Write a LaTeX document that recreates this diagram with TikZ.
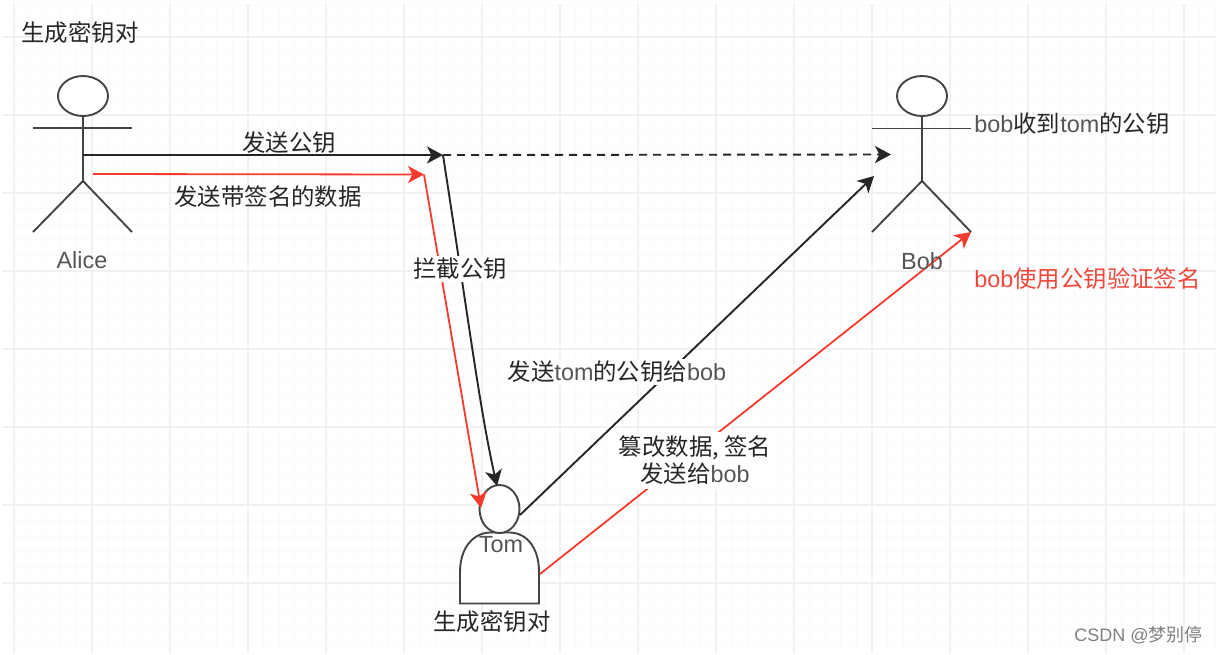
\documentclass[tikz,border=0pt]{standalone}
\usepackage{fontspec}
\setmainfont{Liberation Sans}
\newfontfamily\cjk{Noto Sans CJK SC}
\usetikzlibrary{arrows.meta}
\usetikzlibrary{shapes.geometric}
\definecolor{ink}{HTML}{262626}
\definecolor{limb}{HTML}{444444}
\definecolor{latin}{HTML}{555555}
\definecolor{redline}{HTML}{F53A2E}
\definecolor{redtext}{HTML}{F2483C}
\definecolor{gridminor}{HTML}{FAFAFA}
\definecolor{gridmajor}{HTML}{F1F1F1}
\newcommand{\zh}[1]{{\cjk\color{ink}#1}}
\newcommand{\lat}[1]{{\color{latin}#1}}
\newcommand{\zr}[1]{{\cjk\color{redtext}#1}}
\tikzset{
  limbline/.style={draw=limb,line width=0.95pt},
  actorhead/.style={ellipse,draw=limb,line width=0.95pt,fill=white,inner sep=0pt},
  lbl/.style={font=\fontsize{11.7pt}{13.5pt}\selectfont,inner sep=1pt,align=center},
  bglbl/.style={lbl,fill=white},
  blackarrow/.style={-{Stealth[length=8pt,width=8.5pt,inset=2.2pt]},draw=ink,line width=0.95pt},
  redarrow/.style={-{Stealth[length=8pt,width=8.5pt,inset=2.2pt]},draw=redline,line width=0.9pt},
}
\begin{document}
\begin{tikzpicture}[x=0.5pt,y=-0.5pt]
\useasboundingbox (0,0) rectangle (1218,654);
\fill[white] (0,0) rectangle (1218,654);
% grid
\begin{scope}
\clip (2,4) rectangle (1216,652);
\foreach \i in {-1,...,78} \draw[gridminor,line width=0.5pt] ({14+15.6*\i},0) -- ({14+15.6*\i},654);
\foreach \i in {-3,...,41} \draw[gridminor,line width=0.5pt] (0,{37+15.6*\i}) -- (1218,{37+15.6*\i});
\foreach \i in {0,...,15} \draw[gridmajor,line width=0.6pt] ({14+78*\i},0) -- ({14+78*\i},654);
\foreach \i in {0,...,8} \draw[gridmajor,line width=0.6pt] (0,{37+78*\i}) -- (1218,{37+78*\i});
\end{scope}
% anchors
\node[actorhead,minimum width=25pt,minimum height=20pt] (aliceHead) at (83,96) {};
\coordinate (aliceNeck) at (83,115);
\coordinate (aliceArmL) at (33,128);
\coordinate (aliceArmR) at (132,128);
\coordinate (aliceHip) at (83,181);
\coordinate (aliceLegL) at (33,232);
\coordinate (aliceLegR) at (132,232);
\coordinate (aliceBlack) at (83,155);
\coordinate (aliceRed) at (93,174);
\node[actorhead,minimum width=25pt,minimum height=20pt] (bobHead) at (922,96) {};
\coordinate (bobNeck) at (922,115);
\coordinate (bobArmL) at (872,128.5);
\coordinate (bobArmR) at (971,128.5);
\coordinate (bobHip) at (922,181);
\coordinate (bobLegL) at (872,232);
\coordinate (bobLegR) at (971,232);
\coordinate (interceptBlack) at (443,155);
\coordinate (interceptRed) at (424,174.5);
\coordinate (bobDash) at (891,154.5);
\coordinate (bobBlack) at (874,176);
\coordinate (tomHeadTop) at (497,486);
\coordinate (tomHeadLeft) at (481,508);
\coordinate (tomHeadRight) at (520,515);
\coordinate (tomBodyRight) at (540,574);
% actors
\draw[limbline] (aliceNeck) -- (aliceHip);
\draw[limbline] (aliceArmL) -- (aliceArmR);
\draw[limbline] (aliceLegL) -- (aliceHip) -- (aliceLegR);
\draw[limbline] (bobNeck) -- (bobHip);
\draw[limbline] (bobArmL) -- (bobArmR);
\draw[limbline] (bobLegL) -- (bobHip) -- (bobLegR);
\draw[limbline,fill=white] (460,603.5) -- (460,572) .. controls (460,548) and (473,533) .. (490,532.5) -- (510,532.5) .. controls (527,533) and (539,548) .. (539,572) -- (539,603.5) -- cycle;
\node[actorhead,minimum width=20pt,minimum height=24pt] (tomHead) at (499.5,509) {};
% connectors
\draw[blackarrow] (aliceBlack) -- (interceptBlack);
\draw[blackarrow,dash pattern=on 4pt off 3pt] (interceptBlack) -- (bobDash);
\draw[redarrow] (aliceRed) -- (interceptRed);
\draw[blackarrow] (interceptBlack) .. controls (470,330) and (480,410) .. (tomHeadTop);
\draw[redarrow] (interceptRed) -- (tomHeadLeft);
\draw[blackarrow] (tomHeadRight) -- (bobBlack);
\draw[redarrow] (tomBodyRight) -- (bobLegR);
% labels
\node[lbl,anchor=west] (t1) at (19,33) {\zh{生成密钥对}};
\node[lbl] (t2) at (289,143) {\zh{发送公钥}};
\node[lbl] (t3) at (268,197) {\zh{发送带签名的数据}};
\node[bglbl] (t4) at (460,269) {\zh{拦截公钥}};
\node[bglbl] (t5) at (617,372) {\zh{发送}\lat{tom}\zh{的公钥给}\lat{bob}};
\node[bglbl,inner sep=2pt] (t6) at (695,460.5) {\zh{篡改数据, 签名}\\\zh{发送给}\lat{bob}};
\node[lbl,anchor=west] (t7) at (972,124) {\lat{bob}\zh{收到}\lat{tom}\zh{的公钥}};
\node[lbl,anchor=west] (t8) at (972,279) {{\color{redtext}bob}\zr{使用公钥验证签名}};
\node[lbl] (t9) at (82,260) {\lat{Alice}};
\node[lbl] (t10) at (922,261) {\lat{Bob}};
\node[lbl] (t11) at (501,545) {\lat{Tom}};
\node[lbl] (t12) at (492,622) {\zh{生成密钥对}};
\node[lbl,anchor=east,font=\fontsize{9pt}{11pt}\selectfont,text=gray] (wm) at (1205,635) {CSDN @{\cjk 梦别停}};
\end{tikzpicture}
\end{document}
